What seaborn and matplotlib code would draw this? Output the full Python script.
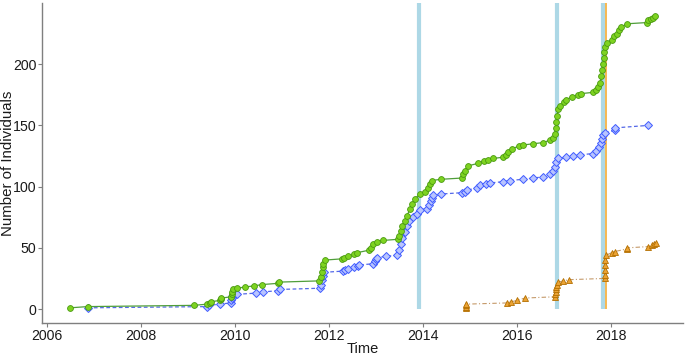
import numpy as np
import pandas as pd
import seaborn as sns
import matplotlib
matplotlib.use("Agg")
import matplotlib.pyplot as plt

# ---- data (time in decimal years, cumulative number of individuals) ----
green_time = [2006.50, 2006.87, 2009.13, 2009.42, 2009.47, 2009.50, 2009.68, 2009.70, 2009.72,
              2009.93, 2009.94, 2009.95, 2009.96, 2010.04, 2010.23, 2010.42, 2010.59, 2010.92,
              2010.95, 2011.80, 2011.83, 2011.85, 2011.87, 2011.89, 2011.92, 2012.28, 2012.32,
              2012.42, 2012.55, 2012.60, 2012.85, 2012.90, 2012.95, 2013.02, 2013.15, 2013.48,
              2013.50, 2013.53, 2013.57, 2013.62, 2013.67, 2013.73, 2013.78, 2013.84, 2013.94,
              2014.05, 2014.12, 2014.16, 2014.19, 2014.40, 2014.83, 2014.87, 2014.90, 2014.97,
              2015.18, 2015.30, 2015.40, 2015.50, 2015.71, 2015.78, 2015.82, 2015.90, 2016.05,
              2016.14, 2016.35, 2016.57, 2016.71, 2016.78, 2016.81, 2016.83, 2016.845, 2016.86,
              2016.88, 2016.93, 2017.00, 2017.05, 2017.17, 2017.30, 2017.38, 2017.63, 2017.70,
              2017.74, 2017.78, 2017.80, 2017.82, 2017.84, 2017.86, 2017.87, 2017.89, 2017.92,
              2018.02, 2018.08, 2018.13, 2018.18, 2018.23, 2018.34, 2018.77, 2018.80, 2018.85,
              2018.90, 2018.95]
green_count = [1, 2, 3, 4, 5, 6, 7, 8, 9,
               10, 12, 14, 16, 17, 18, 19, 20, 21,
               22, 23, 26, 30, 34, 37, 40, 41, 42,
               43, 45, 46, 48, 50, 53, 55, 56, 57,
               60, 64, 68, 72, 76, 82, 86, 90, 94,
               96, 99, 102, 105, 106, 107, 110, 113, 117,
               119, 121, 122, 123, 124, 126, 128, 131, 133,
               134, 135, 136, 138, 140, 143, 148, 153, 158,
               163, 166, 169, 171, 173, 175, 176, 177, 179,
               181, 185, 190, 195, 200, 205, 210, 214, 217,
               220, 223, 225, 228, 230, 233, 234, 236, 237,
               238, 239]

blue_time = [2006.87, 2009.42, 2009.45, 2009.68, 2009.92, 2009.93, 2009.94, 2009.95, 2010.04,
             2010.45, 2010.60, 2010.93, 2010.96, 2011.81, 2011.83, 2011.85, 2011.87, 2011.90,
             2012.31, 2012.35, 2012.42, 2012.55, 2012.62, 2012.65, 2012.95, 2012.98, 2013.00,
             2013.02, 2013.23, 2013.45, 2013.50, 2013.53, 2013.57, 2013.62, 2013.66, 2013.72,
             2013.80, 2013.87, 2013.94, 2014.09, 2014.14, 2014.17, 2014.20, 2014.23, 2014.40,
             2014.83, 2014.90, 2014.94, 2015.15, 2015.22, 2015.35, 2015.43, 2015.71, 2015.86,
             2016.14, 2016.35, 2016.57, 2016.71, 2016.78, 2016.81, 2016.84, 2016.88, 2017.06,
             2017.20, 2017.35, 2017.63, 2017.70, 2017.75, 2017.79, 2017.81, 2017.84, 2017.88,
             2018.09, 2018.10, 2018.80]
blue_count = [1, 2, 3, 4, 5, 7, 9, 11, 12,
              13, 14, 15, 16, 17, 20, 24, 27, 30,
              31, 32, 33, 34, 35, 36, 37, 39, 41,
              42, 43, 44, 48, 53, 58, 63, 68, 72,
              75, 78, 81, 82, 85, 88, 91, 93, 94,
              95, 96, 97, 99, 101, 102, 103, 104, 105,
              106, 107, 108, 110, 113, 116, 120, 123, 124,
              125, 126, 127, 129, 132, 136, 139, 142, 144,
              146, 148, 150]

orange_time = [2014.92, 2014.921, 2014.922, 2014.923, 2015.80, 2015.89, 2016.01, 2016.18,
               2016.82, 2016.825, 2016.83, 2016.835, 2016.84, 2016.85, 2016.89, 2016.99,
               2017.12, 2017.88, 2017.882, 2017.885, 2017.888, 2017.89, 2017.91, 2018.02,
               2018.09, 2018.34, 2018.36, 2018.80, 2018.88, 2018.92, 2018.96]
orange_count = [1, 2, 3, 4, 5, 6, 7, 9,
                10, 12, 14, 16, 18, 20, 22, 23,
                24, 25, 28, 32, 36, 40, 44, 46,
                47, 49, 50, 51, 52, 53, 54]

event_lines = [2013.92, 2016.85, 2017.83]
orange_line = 2017.895

x_ticks = [2006, 2008, 2010, 2012, 2014, 2016, 2018]
y_ticks = [0, 50, 100, 150, 200]

# ---- plotting ----
sns.set_style("white")
plt.rcParams['font.family'] = ['Liberation Sans', 'DejaVu Sans']

fig = plt.figure(figsize=(6.85, 3.56), dpi=100)
ax = fig.add_axes([0.0613, 0.0927, 0.9357, 0.8989])

ax.vlines(event_lines, 0, 250, color="#add8e6", linewidth=3.0, zorder=1)
ax.vlines([orange_line], 0, 250, color="#f5a623", linewidth=1.1, zorder=1)

g = pd.DataFrame({"t": green_time, "n": green_count})
b = pd.DataFrame({"t": blue_time, "n": blue_count})
o = pd.DataFrame({"t": orange_time, "n": orange_count})

sns.lineplot(data=o, x="t", y="n", ax=ax, sort=False, estimator=None,
             color="#c59a6a", linewidth=0.8, linestyle=(0, (4, 2, 1, 2)),
             marker="^", markersize=5, markerfacecolor="#eba334",
             markeredgecolor="#b36f00", markeredgewidth=0.6, zorder=3)
sns.lineplot(data=b, x="t", y="n", ax=ax, sort=False, estimator=None,
             color="#5468e8", linewidth=0.9, linestyle=(0, (3, 2)),
             marker="D", markersize=3.6, markerfacecolor="#b8c4ff",
             markeredgecolor="#3f5bff", markeredgewidth=0.7, zorder=3)
sns.lineplot(data=g, x="t", y="n", ax=ax, sort=False, estimator=None,
             color="#4f9e3a", linewidth=0.9,
             marker="o", markersize=4.2, markerfacecolor="#7ed321",
             markeredgecolor="#4a9a10", markeredgewidth=0.6, zorder=4)

ax.set_xlim(2005.9, 2019.54)
ax.set_ylim(-11.4, 250)
ax.set_xticks(x_ticks)
ax.set_xticklabels([str(v) for v in x_ticks])
ax.set_yticks(y_ticks)
ax.set_yticklabels([str(v) for v in y_ticks])

for s in ["top", "right"]:
    ax.spines[s].set_visible(False)
for s in ["left", "bottom"]:
    ax.spines[s].set_color("#7f7f7f")
    ax.spines[s].set_linewidth(1.0)

ax.tick_params(axis="both", which="major", length=3, width=0.8, color="#7f7f7f",
               labelsize=10.2, labelcolor="#1a1a1a", pad=1, bottom=True, left=True)
ax.set_xlabel("Time", fontsize=10.5, color="#1a1a1a")
ax.set_ylabel("Number of Individuals", fontsize=10.8, color="#1a1a1a")
ax.xaxis.set_label_coords(0.5, -0.059)
ax.yaxis.set_label_coords(-0.042, 0.5)
ax.grid(False)

fig.savefig("out.png", dpi=100)
